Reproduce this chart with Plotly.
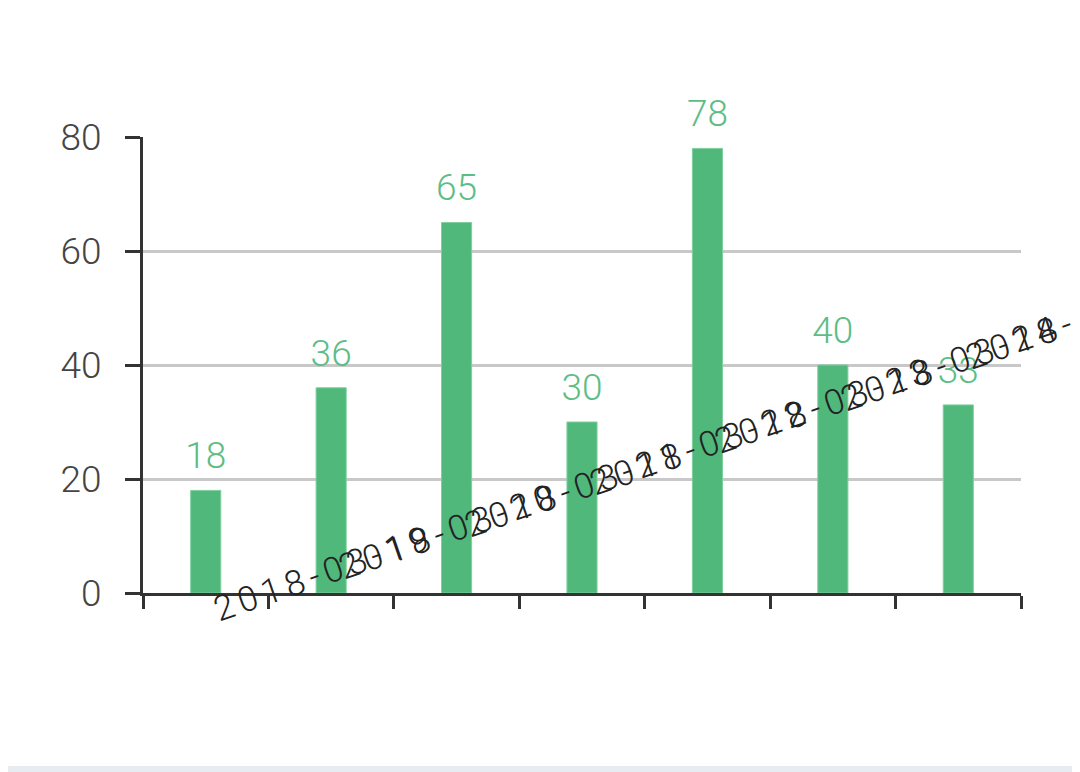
import plotly.graph_objects as go

# --- dados ---
dates = ["2018-03-19", "2018-03-20", "2018-03-21", "2018-03-22",
         "2018-03-23", "2018-03-24", "2018-03-25"]
values = [18, 36, 65, 30, 78, 40, 33]
y_ticks = [0, 20, 40, 60, 80]

GREEN = "#50b87a"
DARK = "#333333"
FONT = "Roboto Light, Roboto"

# a pagina tem 8px de margem no body, por isso a figura e 8px menor
W, H = 1072, 764
M = dict(l=135, r=59, t=129, b=179)

fig = go.Figure()

fig.add_trace(go.Bar(
    x=dates, y=values, marker_color=GREEN,
    marker_line=dict(color="#7fcf9f", width=1),
    hoverinfo="skip", showlegend=False,
))

# rotulos de valor acima das barras
fig.add_trace(go.Scatter(
    x=dates, y=values, mode="markers+text", text=[str(v) for v in values],
    textposition="top center", cliponaxis=False,
    textfont=dict(family=FONT, size=37, color="#5cbd85", weight=300),
    marker=dict(size=19, opacity=0), hoverinfo="skip", showlegend=False,
))

# rotulos do eixo x: inclinados e encadeados numa unica linha, como no original
annotations = []
for i, d in enumerate(dates):
    annotations.append(dict(
        x=d, y=0, xref="x", yref="y",
        text='<span style="letter-spacing:5.5px">' + d + '</span>',
        textangle=-19, showarrow=False,
        xanchor="left", yanchor="bottom", yshift=-40 + 42 * i,
        font=dict(family=FONT, size=35, color="#222222", weight=300),
    ))

ph = H - M["t"] - M["b"]
pw = W - M["l"] - M["r"]

fig.update_layout(
    width=W, height=H,
    margin=M,
    paper_bgcolor="white", plot_bgcolor="white",
    bargap=0.76,
    annotations=annotations,
    shapes=[dict(
        type="rect", xref="paper", yref="paper", layer="below",
        x0=-(M["l"] + 10) / pw, x1=1 + (M["r"] + 10) / pw,
        y0=-(M["b"] + 10) / ph, y1=-(758 - M["t"] - ph) / ph,
        fillcolor="#e7ecf3", line_width=0,
    )],
)

fig.update_xaxes(
    type="category", range=[-0.5, len(dates) - 0.5], showticklabels=False,
    showline=True, linewidth=3, linecolor=DARK,
    ticks="outside", tickson="boundaries", ticklen=13, tickwidth=2.5, tickcolor=DARK,
    showgrid=False, zeroline=False,
)
fig.update_yaxes(
    range=[0, 80], tickvals=y_ticks,
    showline=True, linewidth=3, linecolor=DARK,
    ticks="outside", ticklen=15, tickwidth=2.5, tickcolor=DARK,
    ticklabelstandoff=16,
    tickfont=dict(family=FONT, size=37, color="#444444", weight=300),
    showgrid=True, gridcolor="#c8c8c8", gridwidth=2.5, zeroline=False,
)

fig.write_html("out.html")
